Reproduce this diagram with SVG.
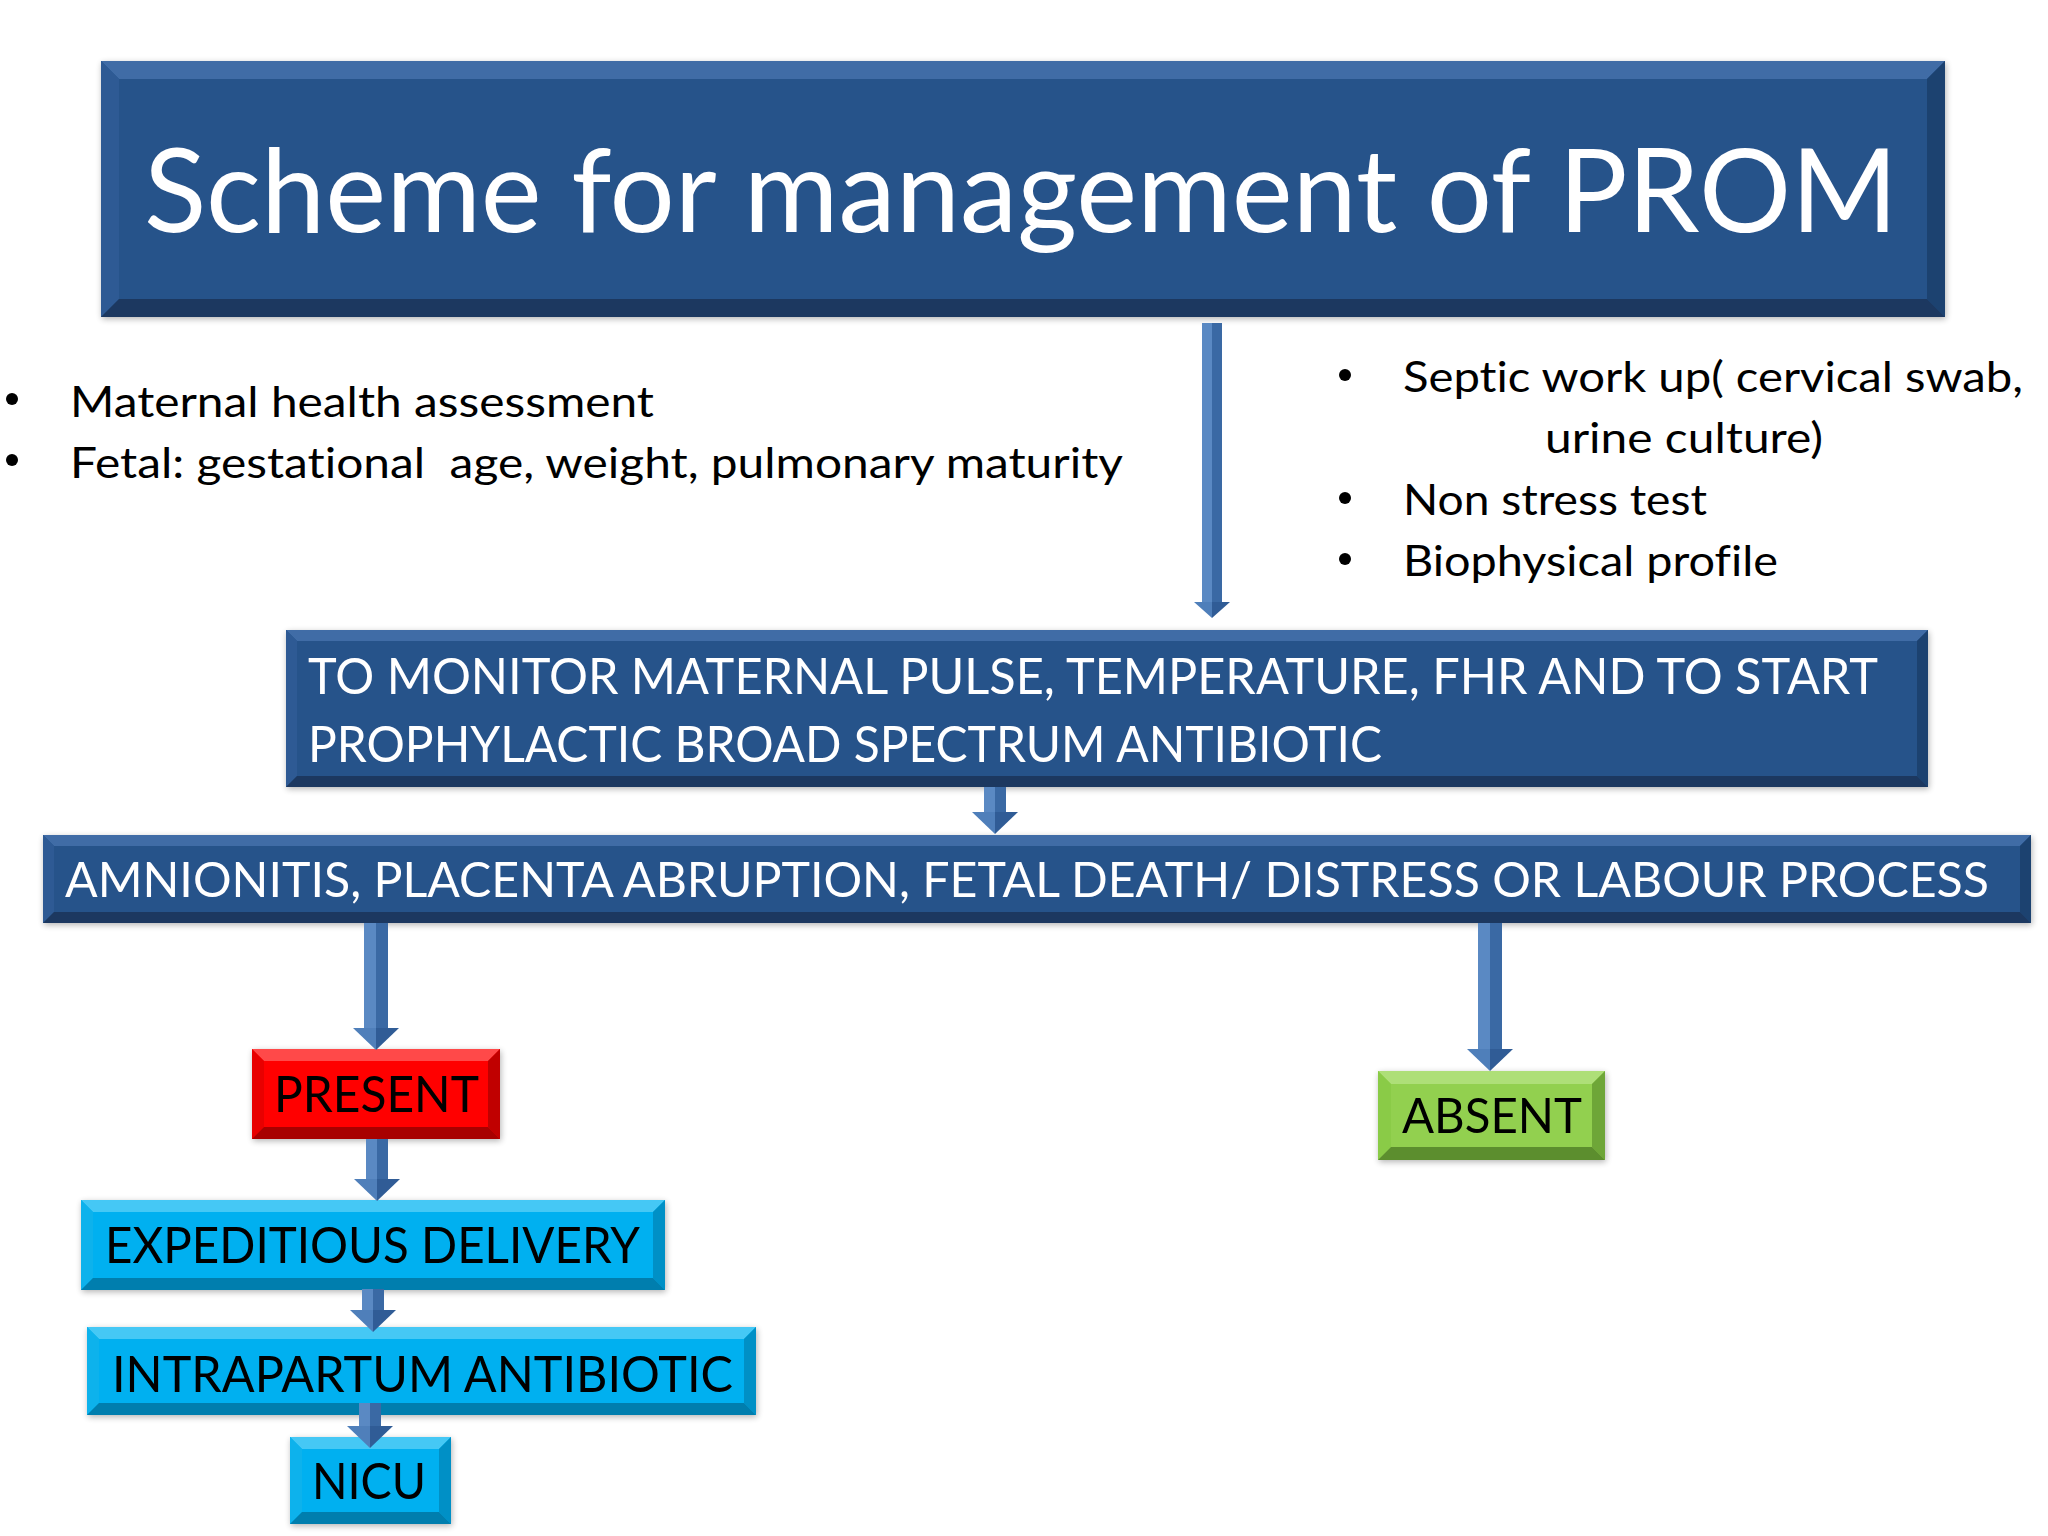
<svg xmlns="http://www.w3.org/2000/svg" width="2048" height="1536" viewBox="0 0 2048 1536">
<defs>
<filter id="sh" x="-5%" y="-20%" width="110%" height="140%">
<feGaussianBlur in="SourceAlpha" stdDeviation="3"/>
<feOffset dx="1" dy="2" result="o"/>
<feComponentTransfer><feFuncA type="linear" slope="0.3"/></feComponentTransfer>
<feMerge><feMergeNode/><feMergeNode in="SourceGraphic"/></feMerge>
</filter>
</defs>
<style>
text{font-family:Lato,"Open Sans","Liberation Sans",sans-serif;font-variant-ligatures:none;font-feature-settings:"liga" 0,"dlig" 0}
.blue .f{fill:#28528A}.blue .t{fill:#3F6CA6}.blue .l{fill:#2D5A94}.blue .r{fill:#1F426F}.blue .b{fill:#1A3961}
.red .f{fill:#FF0000}.red .t{fill:#FF4A4A}.red .l{fill:#E80000}.red .r{fill:#C00000}.red .b{fill:#A80000}
.cyan .f{fill:#00B0F0}.cyan .t{fill:#45C8F5}.cyan .l{fill:#0AB2EC}.cyan .r{fill:#0090C6}.cyan .b{fill:#007EAE}
.green .f{fill:#92D050}.green .t{fill:#AEDF78}.green .l{fill:#8ACB47}.green .r{fill:#6EA639}.green .b{fill:#5C8E2E}
.node{filter:url(#sh)}
.wt{fill:#FFFFFF}.bk{fill:#000000}
.sl{fill:#5A89C3}.sr{fill:#3A69A4}.hl{fill:#4F7FBA}.hr{fill:#305C96}
.dot{fill:#000000}
</style>
<rect width="2048" height="1536" fill="#FFFFFF"/>

<g id="title" class="node blue">
<rect class="f" x="101" y="61" width="1844" height="256"/>
<polygon class="t" points="101,61 1945,61 1927,79 119,79"/>
<polygon class="l" points="101,61 119,79 119,299 101,317"/>
<polygon class="r" points="1945,61 1945,317 1927,299 1927,79"/>
<polygon class="b" points="101,317 119,299 1927,299 1945,317"/>
<text class="wt" x="144" y="232" font-size="117" textLength="1754" lengthAdjust="spacingAndGlyphs">Scheme for management of PROM</text>
</g>

<g id="left-notes">
<circle class="dot" cx="12" cy="399" r="6"/>
<text class="bk" x="70" y="417" font-size="42" textLength="584" lengthAdjust="spacingAndGlyphs">Maternal health assessment</text>
<circle class="dot" cx="12" cy="460" r="6"/>
<text class="bk" x="70" y="478" font-size="42" textLength="1053" lengthAdjust="spacingAndGlyphs" xml:space="preserve">Fetal: gestational  age, weight, pulmonary maturity</text>
</g>

<g id="right-notes">
<circle class="dot" cx="1345" cy="375" r="6"/>
<text class="bk" x="1403" y="392" font-size="42" textLength="620" lengthAdjust="spacingAndGlyphs">Septic work up( cervical swab,</text>
<text class="bk" x="1545" y="453" font-size="42" textLength="278" lengthAdjust="spacingAndGlyphs">urine culture)</text>
<circle class="dot" cx="1345" cy="498" r="6"/>
<text class="bk" x="1403" y="515" font-size="42" textLength="304" lengthAdjust="spacingAndGlyphs">Non stress test</text>
<circle class="dot" cx="1345" cy="559" r="6"/>
<text class="bk" x="1403" y="576" font-size="42" textLength="375" lengthAdjust="spacingAndGlyphs">Biophysical profile</text>
</g>

<g id="monitor" class="node blue">
<rect class="f" x="286" y="630" width="1642" height="157"/>
<polygon class="t" points="286,630 1928,630 1917,641 297,641"/>
<polygon class="l" points="286,630 297,641 297,776 286,787"/>
<polygon class="r" points="1928,630 1928,787 1917,776 1917,641"/>
<polygon class="b" points="286,787 297,776 1917,776 1928,787"/>
<text class="wt" x="308" y="694" font-size="50" textLength="1570" lengthAdjust="spacingAndGlyphs">TO MONITOR MATERNAL PULSE, TEMPERATURE, FHR AND TO START</text>
<text class="wt" x="308" y="762" font-size="50" textLength="1074" lengthAdjust="spacingAndGlyphs">PROPHYLACTIC BROAD SPECTRUM ANTIBIOTIC</text>
</g>

<g id="conditions" class="node blue">
<rect class="f" x="43" y="835" width="1988" height="88"/>
<polygon class="t" points="43,835 2031,835 2020,846 54,846"/>
<polygon class="l" points="43,835 54,846 54,912 43,923"/>
<polygon class="r" points="2031,835 2031,923 2020,912 2020,846"/>
<polygon class="b" points="43,923 54,912 2020,912 2031,923"/>
<text class="wt" x="65" y="897" font-size="49" textLength="1924" lengthAdjust="spacingAndGlyphs">AMNIONITIS, PLACENTA ABRUPTION, FETAL DEATH/ DISTRESS OR LABOUR PROCESS</text>
</g>

<g id="present" class="node red">
<rect class="f" x="252" y="1049" width="248" height="90"/>
<polygon class="t" points="252,1049 500,1049 488,1061 264,1061"/>
<polygon class="l" points="252,1049 264,1061 264,1127 252,1139"/>
<polygon class="r" points="500,1049 500,1139 488,1127 488,1061"/>
<polygon class="b" points="252,1139 264,1127 488,1127 500,1139"/>
<text class="bk" x="274" y="1112" font-size="50" textLength="205" lengthAdjust="spacingAndGlyphs">PRESENT</text>
</g>

<g id="absent" class="node green">
<rect class="f" x="1378" y="1071" width="227" height="89"/>
<polygon class="t" points="1378,1071 1605,1071 1592,1084 1391,1084"/>
<polygon class="l" points="1378,1071 1391,1084 1391,1147 1378,1160"/>
<polygon class="r" points="1605,1071 1605,1160 1592,1147 1592,1084"/>
<polygon class="b" points="1378,1160 1391,1147 1592,1147 1605,1160"/>
<text class="bk" x="1402" y="1133" font-size="48" textLength="180" lengthAdjust="spacingAndGlyphs">ABSENT</text>
</g>

<g id="expeditious" class="node cyan">
<rect class="f" x="81" y="1200" width="584" height="90"/>
<polygon class="t" points="81,1200 665,1200 653,1212 93,1212"/>
<polygon class="l" points="81,1200 93,1212 93,1278 81,1290"/>
<polygon class="r" points="665,1200 665,1290 653,1278 653,1212"/>
<polygon class="b" points="81,1290 93,1278 653,1278 665,1290"/>
<text class="bk" x="105" y="1263" font-size="50" textLength="535" lengthAdjust="spacingAndGlyphs">EXPEDITIOUS DELIVERY</text>
</g>

<g id="intrapartum" class="node cyan">
<rect class="f" x="87" y="1327" width="669" height="88"/>
<polygon class="t" points="87,1327 756,1327 744,1339 99,1339"/>
<polygon class="l" points="87,1327 99,1339 99,1403 87,1415"/>
<polygon class="r" points="756,1327 756,1415 744,1403 744,1339"/>
<polygon class="b" points="87,1415 99,1403 744,1403 756,1415"/>
<text class="bk" x="112" y="1392" font-size="50" textLength="621" lengthAdjust="spacingAndGlyphs">INTRAPARTUM ANTIBIOTIC</text>
</g>

<g id="nicu" class="node cyan">
<rect class="f" x="290" y="1437" width="161" height="87"/>
<polygon class="t" points="290,1437 451,1437 439,1449 302,1449"/>
<polygon class="l" points="290,1437 302,1449 302,1512 290,1524"/>
<polygon class="r" points="451,1437 451,1524 439,1512 439,1449"/>
<polygon class="b" points="290,1524 302,1512 439,1512 451,1524"/>
<text class="bk" x="312" y="1499" font-size="50" textLength="114" lengthAdjust="spacingAndGlyphs">NICU</text>
</g>

<g id="connectors">
<g id="a-title-monitor">
<path class="sl" d="M1202,323 H1212 V602 H1202 Z"/><path class="sr" d="M1212,323 H1222 V602 H1212 Z"/>
<path class="hl" d="M1194,602 H1212 V618 Z"/><path class="hr" d="M1212,602 H1230 L1212,618 Z"/>
</g>
<g id="a-monitor-conditions">
<path class="sl" d="M984,787 H995 V812 H984 Z"/><path class="sr" d="M995,787 H1006 V812 H995 Z"/>
<path class="hl" d="M972,812 H995 V834 Z"/><path class="hr" d="M995,812 H1018 L995,834 Z"/>
</g>
<g id="a-conditions-present">
<path class="sl" d="M364,923 H376 V1028 H364 Z"/><path class="sr" d="M376,923 H388 V1028 H376 Z"/>
<path class="hl" d="M353,1028 H376 V1050 Z"/><path class="hr" d="M376,1028 H399 L376,1050 Z"/>
</g>
<g id="a-conditions-absent">
<path class="sl" d="M1478,923 H1490 V1049 H1478 Z"/><path class="sr" d="M1490,923 H1502 V1049 H1490 Z"/>
<path class="hl" d="M1467,1049 H1490 V1071 Z"/><path class="hr" d="M1490,1049 H1513 L1490,1071 Z"/>
</g>
<g id="a-present-expeditious">
<path class="sl" d="M366,1139 H377 V1179 H366 Z"/><path class="sr" d="M377,1139 H388 V1179 H377 Z"/>
<path class="hl" d="M354,1179 H377 V1201 Z"/><path class="hr" d="M377,1179 H400 L377,1201 Z"/>
</g>
<g id="a-expeditious-intrapartum">
<path class="sl" d="M362,1289 H373 V1310 H362 Z"/><path class="sr" d="M373,1289 H384 V1310 H373 Z"/>
<path class="hl" d="M350,1310 H373 V1332 Z"/><path class="hr" d="M373,1310 H396 L373,1332 Z"/>
</g>
<g id="a-intrapartum-nicu">
<path class="sl" d="M359,1403 H370 V1426 H359 Z"/><path class="sr" d="M370,1403 H381 V1426 H370 Z"/>
<path class="hl" d="M347,1426 H370 V1448 Z"/><path class="hr" d="M370,1426 H393 L370,1448 Z"/>
</g>
</g>
</svg>
